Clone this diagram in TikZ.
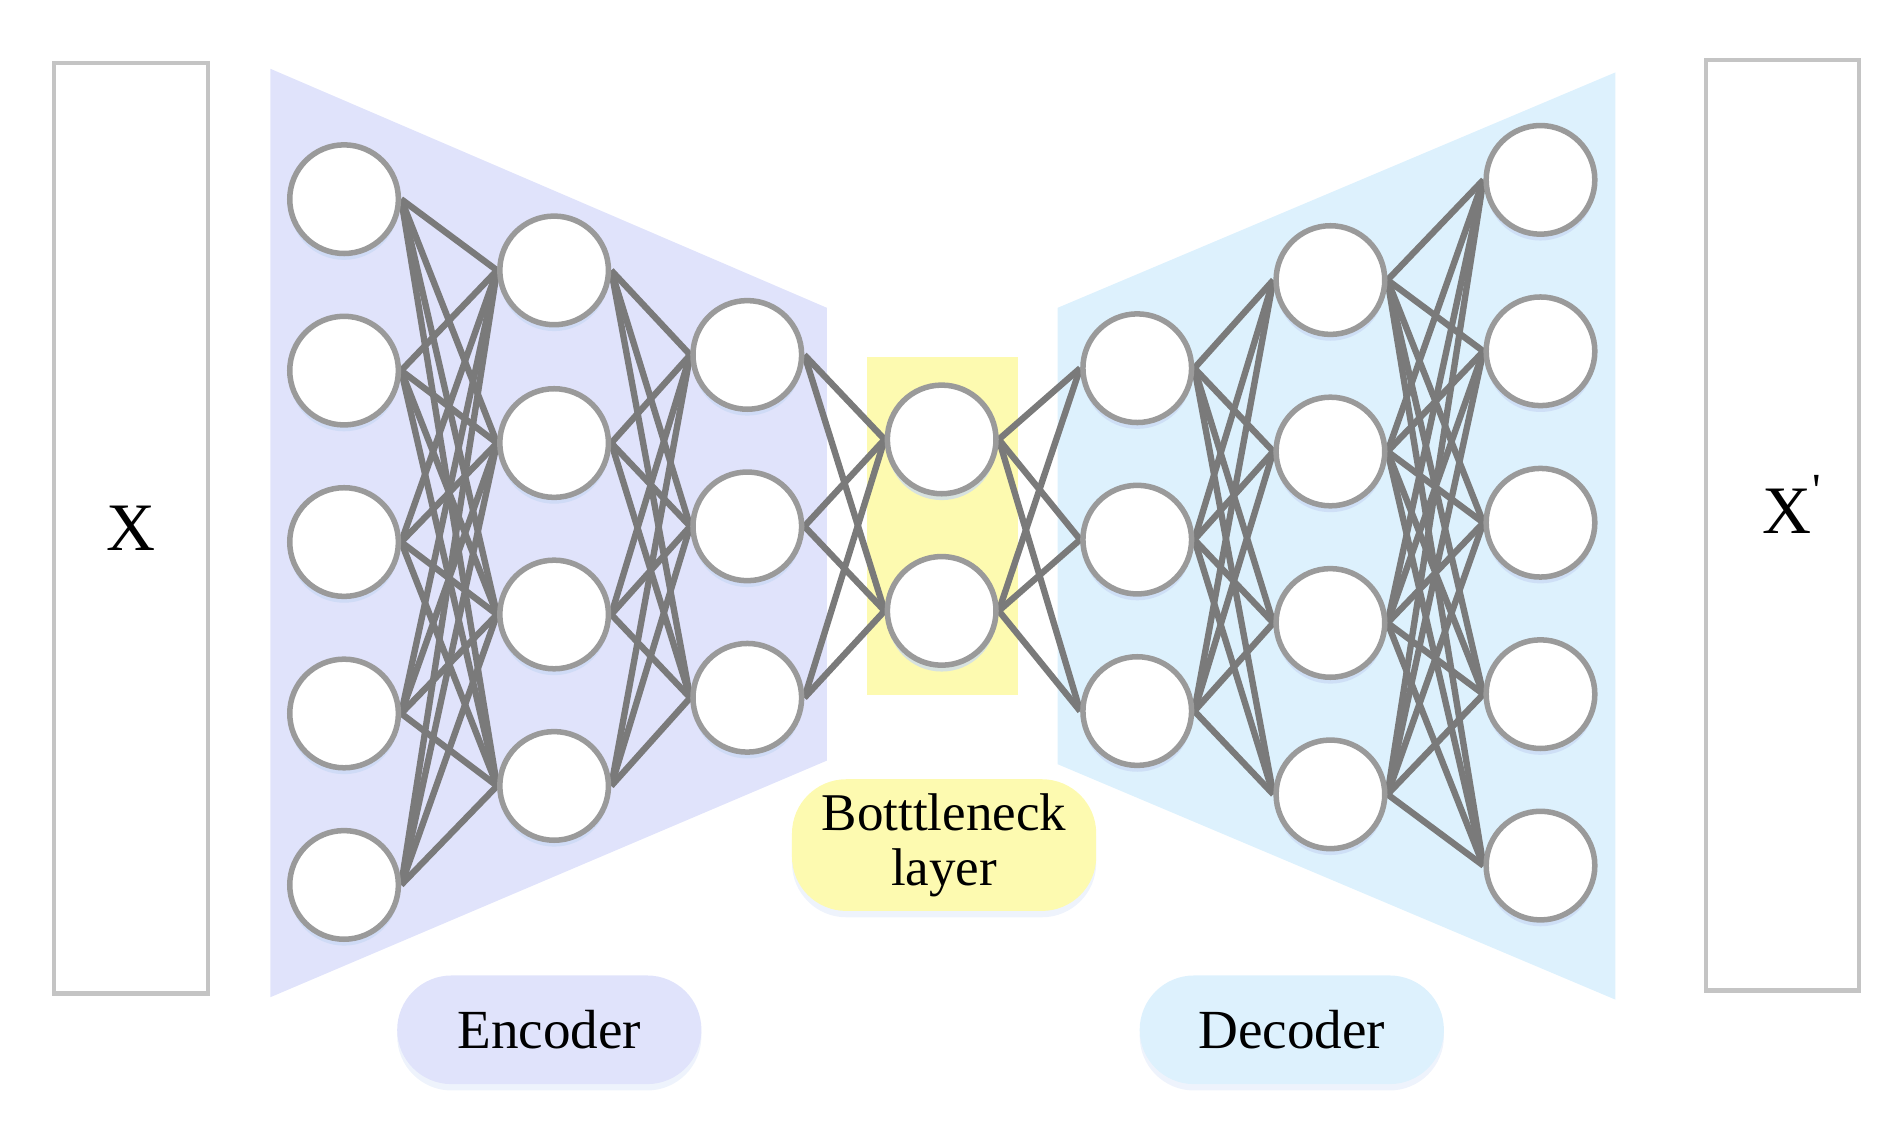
\documentclass[tikz,border=0pt]{standalone}
\usepackage{fontspec}
\setmainfont{Liberation Serif}
\usetikzlibrary{shadows}
\definecolor{enccol}{HTML}{E0E3FB}
\definecolor{deccol}{HTML}{DDF1FD}
\definecolor{neckcol}{HTML}{FDFAB0}
\definecolor{circgray}{HTML}{9A9A9A}
\definecolor{linkgray}{HTML}{7A7A7A}
\definecolor{boxgray}{HTML}{C4C4C4}
\definecolor{shadowblue}{HTML}{C8D8F4}
\pgfdeclarelayer{bg}
\pgfsetlayers{bg,main}

\begin{document}
\begin{tikzpicture}[
  neuron/.style={circle,draw=circgray,line width=1.3pt,fill=white,minimum size=0.9cm,inner sep=0pt,
    drop shadow={shadow xshift=0pt,shadow yshift=-1.5pt,fill=shadowblue,opacity=0.7}},
  link/.style={draw=linkgray,line width=1.5pt},
  databox/.style={draw=boxgray,line width=1pt,fill=white,minimum width=1.27cm,minimum height=7.71cm,inner sep=0pt},
  tag/.style={rounded corners=0.45cm,minimum width=2.52cm,minimum height=0.9cm,align=center,
    font=\fontsize{13}{13.5}\selectfont,
    drop shadow={shadow xshift=0pt,shadow yshift=-1.5pt,fill=shadowblue,opacity=0.3}}
]
  \useasboundingbox (0,0) rectangle (15.68,9.36);

  \begin{pgfonlayer}{bg}
    \fill[enccol]  (2.24,8.79) -- (6.85,6.81) -- (6.85,3.06) -- (2.24,1.10) -- cycle;
    \fill[deccol]  (8.76,6.81) -- (13.38,8.76) -- (13.38,1.08) -- (8.76,3.03) -- cycle;
    \fill[neckcol] (7.18,3.60) rectangle (8.43,6.40);
  \end{pgfonlayer}

  \node[databox,font=\fontsize{16}{16}\selectfont] (input)  at (1.085,4.985) {X};
  \node[databox]                                   (output) at (14.765,5.01) {};
  \node[font=\fontsize{16}{16}\selectfont]         (outlbl) at (14.85,5.18) {X\textsuperscript{\textquotesingle}};

  \foreach \y [count=\i] in {7.71,6.29,4.87,3.45,2.03}
    \node[neuron] (e1\i) at (2.85,\y) {};
  \foreach \y [count=\i] in {7.12,5.69,4.27,2.85}
    \node[neuron] (e2\i) at (4.59,\y) {};
  \foreach \y [count=\i] in {6.42,5.00,3.58}
    \node[neuron] (e3\i) at (6.19,\y) {};
  \foreach \y [count=\i] in {5.72,4.30}
    \node[neuron] (z\i) at (7.80,\y) {};
  \foreach \y [count=\i] in {6.31,4.89,3.47}
    \node[neuron] (d1\i) at (9.42,\y) {};
  \foreach \y [count=\i] in {7.04,5.62,4.20,2.78}
    \node[neuron] (d2\i) at (11.02,\y) {};
  \foreach \y [count=\i] in {7.87,6.45,5.03,3.61,2.19}
    \node[neuron] (d3\i) at (12.76,\y) {};

  \begin{pgfonlayer}{bg}
    \foreach \a in {1,...,5} \foreach \b in {1,...,4} \draw[link] (e1\a.east) -- (e2\b.west);
    \foreach \a in {1,...,4} \foreach \b in {1,...,3} \draw[link] (e2\a.east) -- (e3\b.west);
    \foreach \a in {1,...,3} \foreach \b in {1,2}     \draw[link] (e3\a.east) -- (z\b.west);
    \foreach \a in {1,2}     \foreach \b in {1,...,3} \draw[link] (z\a.east)  -- (d1\b.west);
    \foreach \a in {1,...,3} \foreach \b in {1,...,4} \draw[link] (d1\a.east) -- (d2\b.west);
    \foreach \a in {1,...,4} \foreach \b in {1,...,5} \draw[link] (d2\a.east) -- (d3\b.west);
  \end{pgfonlayer}

  \node[tag,fill=enccol]  (enctag)  at (4.55,0.83)  {Encoder};
  \node[tag,fill=deccol]  (dectag)  at (10.70,0.83) {Decoder};
  \node[tag,fill=neckcol,font=\fontsize{12.5}{13}\selectfont] (necktag) at (7.82,2.36) {Botttleneck\\layer};
\end{tikzpicture}
\end{document}
